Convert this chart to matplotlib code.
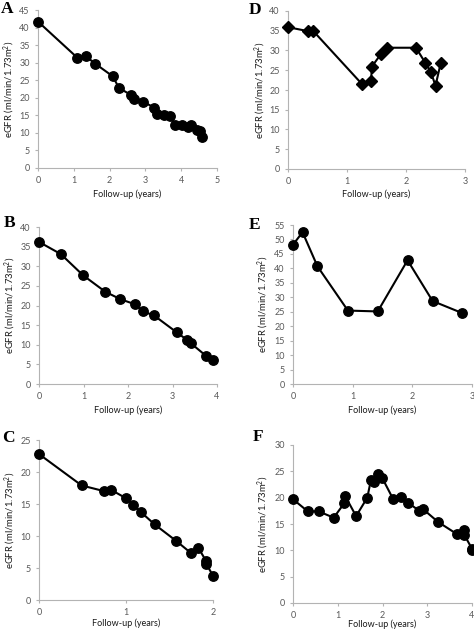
import matplotlib
matplotlib.use("Agg")
import matplotlib.pyplot as plt

# painel A
a_anos = [0, 1.1, 1.34, 1.6, 2.09, 2.26, 2.6, 2.68, 2.93, 3.25, 3.33, 3.51, 3.68,
          3.84, 4.01, 4.18, 4.26, 4.44, 4.52, 4.59]
a_egfr = [41.7, 31.4, 31.8, 29.7, 26.1, 22.8, 20.8, 19.6, 18.9, 17.2, 15.5, 15.1,
          14.9, 12.3, 12.3, 11.8, 12.2, 10.9, 10.5, 8.9]

# painel B
b_anos = [0, 0.49, 0.99, 1.49, 1.83, 2.16, 2.33, 2.58, 3.09, 3.33, 3.41, 3.75, 3.92]
b_egfr = [36.2, 33.1, 27.7, 23.5, 21.6, 20.3, 18.5, 17.5, 13.2, 11.2, 10.4, 7.2, 6.2]

# painel C
c_anos = [0, 0.49, 0.75, 0.83, 1.0, 1.08, 1.17, 1.33, 1.58, 1.75, 1.83, 1.92, 1.92, 2.0]
c_egfr = [22.8, 17.9, 17.0, 17.2, 15.9, 14.9, 13.75, 11.8, 9.2, 7.3, 8.2, 6.1, 5.7, 3.8]

# painel D
d_anos = [0, 0.34, 0.43, 1.26, 1.41, 1.42, 1.58, 1.67, 2.17, 2.33, 2.42, 2.5, 2.59]
d_egfr = [35.9, 34.9, 34.9, 21.4, 22.4, 25.9, 29.2, 30.7, 30.7, 26.8, 24.6, 21.1, 26.9]

# painel E
e_anos = [0, 0.16, 0.41, 0.92, 1.42, 1.92, 2.34, 2.84]
e_egfr = [48.2, 52.5, 40.7, 25.4, 25.1, 42.8, 28.7, 24.5]

# painel F
f_anos = [0, 0.33, 0.57, 0.91, 1.15, 1.16, 1.41, 1.66, 1.74, 1.82, 1.91, 1.99, 2.24,
          2.41, 2.58, 2.82, 2.91, 3.24, 3.66, 3.83, 3.83, 4.0, 4.01]
f_egfr = [19.7, 17.4, 17.4, 16.2, 19.0, 20.4, 16.5, 20.0, 23.3, 22.9, 24.4, 23.8,
          19.7, 20.2, 19.0, 17.5, 17.8, 15.4, 13.1, 13.8, 12.9, 10.3, 10.1]

W, H = 474, 630
CINZA = "#595959"
FONTE = "Lato"


def px(x, y):
    # pixels (a partir do canto superior esquerdo) -> fracao da figura
    return x / W, 1 - y / H


def desenhar_painel(fig, caixa, letra, pos_letra, x_ylabel, y_xlabel,
                    anos, egfr, xmax, ymax, marcador="o"):
    esq, topo, dir_, base = caixa
    x0, y0 = px(esq, base)
    x1, y1 = px(dir_, topo)
    ax = fig.add_axes([x0, y0, x1 - x0, y1 - y0])
    ax.plot(anos, egfr, color="black", linewidth=1.5, marker=marcador,
            markersize=6.8 if marcador == "o" else 6, clip_on=False, zorder=3)
    ax.set_xlim(0, xmax)
    ax.set_ylim(0, ymax)
    ax.set_xticks(range(0, xmax + 1))
    ax.set_yticks(range(0, ymax + 1, 5))
    for lado in ["top", "right"]:
        ax.spines[lado].set_visible(False)
    for lado in ["left", "bottom"]:
        ax.spines[lado].set_color("#b3b3b3")
        ax.spines[lado].set_linewidth(0.8)
    ax.tick_params(colors="#b3b3b3", labelcolor=CINZA, labelsize=6.5,
                   length=2.5, width=0.8, pad=3.5)
    for t in ax.get_xticklabels() + ax.get_yticklabels():
        t.set_family(FONTE)

    ax.set_xlabel("Follow-up (years)", fontsize=6.5, color="#1a1a1a", family=FONTE)
    ax.xaxis.set_label_coords((x0 + x1) / 2, 1 - y_xlabel / H,
                              transform=fig.transFigure)
    ax.xaxis.label.set_va("center")
    ax.set_ylabel("eGFR (ml/min/1.73m$^2$)", fontsize=6.8, color="#1a1a1a",
                  family=FONTE)
    ax.yaxis.set_label_coords(x_ylabel / W, (y0 + y1) / 2,
                              transform=fig.transFigure)
    ax.yaxis.label.set_va("center")

    lx, ly = px(*pos_letra)
    fig.text(lx, ly, letra, fontsize=12.5, fontweight="bold",
             family="Liberation Serif", ha="center", va="center")
    return ax


def main():
    plt.rcParams["mathtext.fontset"] = "custom"
    plt.rcParams["mathtext.rm"] = FONTE
    fig = plt.figure(figsize=(W / 100, H / 100), dpi=100)

    desenhar_painel(fig, (38, 10, 217, 168), "A", (7, 9), 9, 194,
                    a_anos, a_egfr, 5, 45)
    desenhar_painel(fig, (39, 227, 217, 384), "B", (10, 223), 10, 410,
                    b_anos, b_egfr, 4, 40)
    desenhar_painel(fig, (39, 440, 213, 600), "C", (8, 438), 10, 623,
                    c_anos, c_egfr, 2, 25)
    desenhar_painel(fig, (288, 11, 465, 169), "D", (255, 10), 260, 194,
                    d_anos, d_egfr, 3, 40, marcador="D")
    desenhar_painel(fig, (293, 225, 472, 384), "E", (255, 225), 263, 410,
                    e_anos, e_egfr, 3, 55)
    desenhar_painel(fig, (293, 445, 472, 603), "F", (258, 437), 263, 624,
                    f_anos, f_egfr, 4, 30)

    fig.savefig("out.png", dpi=100)


if __name__ == "__main__":
    main()
